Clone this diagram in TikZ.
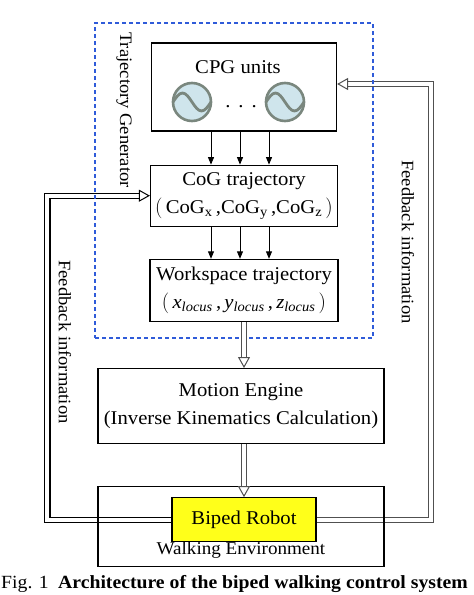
\documentclass[tikz,border=0pt]{standalone}
\usepackage{fontspec}
\setmainfont{Liberation Serif}[FakeStretch=1.06]
\usepackage{tikz}
\usetikzlibrary{arrows.meta,positioning,backgrounds}
\definecolor{tgblue}{HTML}{2F5BD9}
\definecolor{oscfill}{HTML}{CFE5EC}
\definecolor{oscline}{HTML}{7A877E}
\definecolor{fbgray}{HTML}{505050}
\definecolor{robotyellow}{HTML}{FFFF1A}

\begin{document}
\begin{tikzpicture}[
x=1pt,y=-1pt,
node distance=33pt,
every node/.style={font=\fontsize{19.5}{28}\selectfont},
box/.style={draw,line width=1.2pt,inner sep=0pt,align=center},
lbl/.style={inner sep=0pt,font=\fontsize{17.5}{20}\selectfont},
arr/.style={-{Triangle[length=7.5pt,width=6pt]},line width=0.9pt},
dbl/.style={draw=fbgray,line width=0.9pt,double=white,double distance=4pt,
  -{Triangle[open,length=11pt,width=12pt,line width=1pt]}},
osc/.style={circle,draw=oscline,fill=oscfill,line width=2.6pt,minimum size=38pt,inner sep=0pt,outer sep=0pt},
wave/.style={draw=oscline,line width=2.8pt}
]
\useasboundingbox (0,0) rectangle (474,595);

% trajectory generator
\node[draw=tgblue,dash pattern=on 4pt off 3pt,line width=1.3pt,minimum width=278pt,minimum height=315pt,inner sep=0pt] (tg) at (234,180.5) {};
\node[lbl,rotate=-90] (tglbl) at (124,110) {Trajectory Generator};

\node[box,minimum width=185pt,minimum height=88pt] (cpg) at (244,87) {};
\node[inner sep=0pt,anchor=base] (cpglbl) at (238,73) {CPG units};
\node[osc] (osca) at (192,102) {};
\node[osc] (oscb) at (285,102) {};
\node[inner sep=0pt,anchor=base] (dots) at (241,107) {.\hspace{8pt}.\hspace{8pt}.};
\draw[wave] (osca.west) sin ++(9.5,-9) cos ++(9.5,9) sin ++(9.5,9) cos ++(9.5,-9);
\draw[wave] (oscb.west) sin ++(9.5,-9) cos ++(9.5,9) sin ++(9.5,9) cos ++(9.5,-9);

\node[box,below=of cpg,minimum width=187pt,minimum height=61pt] (cog)
  {CoG trajectory\\$\bigl($\,CoG\textsubscript{x}\,,CoG\textsubscript{y}\,,CoG\textsubscript{z}\,$\bigr)$};
\node[box,below=32pt of cog,minimum width=188pt,minimum height=62pt] (ws)
  {Workspace trajectory\\$\bigl($\,\textit{x}\textsubscript{\textit{locus}}\,,\,\textit{y}\textsubscript{\textit{locus}}\,,\,\textit{z}\textsubscript{\textit{locus}}\,$\bigr)$};
\node[box,below=46pt of ws,xshift=-3pt,minimum width=286pt,minimum height=75pt] (motion)
  {Motion Engine\\(Inverse Kinematics Calculation)};
\node[box,below=42pt of motion,minimum width=286pt,minimum height=80pt] (env) {};
\node[box,fill=robotyellow,below=11pt of env.north,xshift=3pt,minimum width=144pt,minimum height=44pt] (robot) {Biped Robot};
\node[lbl,font=\fontsize{18}{20}\selectfont,above=9pt of env.south] (envlbl) {Walking Environment};

\foreach \dx in {-33,-4,25} {
  \draw[arr] ([xshift=\dx pt]cpg.south) -- ([xshift=\dx pt]cog.north);
  \draw[arr] ([xshift=\dx pt]cog.south) -- ([xshift=\dx pt]ws.north);
}
\draw[dbl] (ws.south) -- (ws.south |- motion.north);
\draw[dbl] (motion.south -| robot.north) -- (robot.north);

% feedback loops
\begin{scope}[on background layer]
\draw[dbl] (robot.east) -- ++(114,0) |- ([yshift=3pt]cpg.east);
\draw[dbl,draw=black,line width=1.1pt] (robot.west) -- ++(-124,0) |- (cog.west);
\end{scope}
\node[lbl,rotate=-90] (fbr) at (408,242) {Feedback information};
\node[lbl,rotate=-90] (fbl) at (65,342) {Feedback information};

\node[anchor=base west,inner sep=0pt,font=\fontsize{18.6}{24}\selectfont] (cap) at (1,588)
  {Fig. 1\hspace{0.5em}\textbf{Architecture of the biped walking control system}};
\end{tikzpicture}
\end{document}
